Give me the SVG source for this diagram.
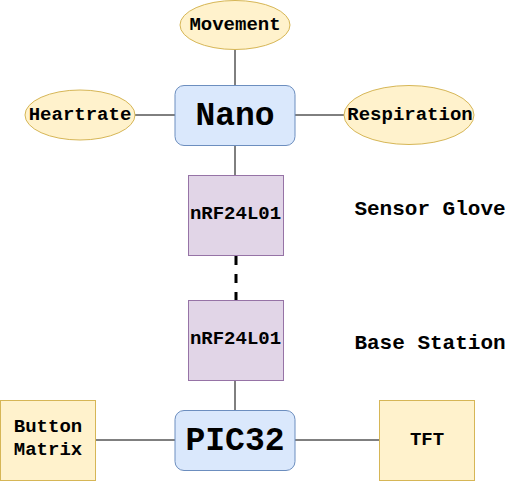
<svg xmlns="http://www.w3.org/2000/svg" width="524" height="481" viewBox="0 0 524 481">
<style>
text{font-family:"Liberation Mono","Courier New",monospace;font-weight:bold;fill:#000;text-anchor:middle}
.s{font-size:19px}
.l{font-size:21px}
.b{font-size:33px}
.y{fill:#fff2cc;stroke:#d6b656;stroke-width:1}
.bl{fill:#dae8fc;stroke:#6c8ebf;stroke-width:1}
.p{fill:#e1d5e7;stroke:#9673a6;stroke-width:1}
.c{stroke:#000;stroke-width:1;fill:none}
</style>
<rect width="524" height="481" fill="#fff"/>
<g id="connectors">
<line class="c" x1="235" y1="50" x2="235" y2="85"/>
<line class="c" x1="135" y1="115" x2="175" y2="115"/>
<line class="c" x1="295" y1="115" x2="344" y2="115"/>
<line class="c" x1="235" y1="145" x2="235" y2="175"/>
<line x1="236" y1="256" x2="236" y2="300" stroke="#000" stroke-width="3" stroke-dasharray="9 9"/>
<line class="c" x1="235" y1="380" x2="235" y2="410"/>
<line class="c" x1="95" y1="440" x2="175" y2="440"/>
<line class="c" x1="295" y1="440" x2="380" y2="440"/>
</g>
<g id="movement"><ellipse class="y" cx="235" cy="25" rx="55" ry="24.5"/><text class="s" x="235" y="30">Movement</text></g>
<g id="heartrate"><ellipse class="y" cx="80" cy="115" rx="55" ry="25"/><text class="s" x="80" y="120">Heartrate</text></g>
<g id="respiration"><ellipse class="y" cx="409" cy="115" rx="65" ry="29.5"/><text class="s" x="410" y="120">Respiration</text></g>
<g id="nano"><rect class="bl" x="175" y="85.5" width="120" height="60" rx="9"/><text class="b" x="235" y="125">Nano</text></g>
<g id="nrf1"><rect class="p" x="188.5" y="175.5" width="95" height="80"/><text class="s" x="235.5" y="219">nRF24L01</text></g>
<g id="sensor-glove"><text class="l" x="430" y="215">Sensor Glove</text></g>
<g id="nrf2"><rect class="p" x="188.5" y="300.5" width="95" height="80"/><text class="s" x="235.5" y="344">nRF24L01</text></g>
<g id="base-station"><text class="l" x="430" y="349">Base Station</text></g>
<g id="pic32"><rect class="bl" x="175" y="410.5" width="120" height="60" rx="9"/><text class="b" x="235" y="450">PIC32</text></g>
<g id="button-matrix"><rect class="y" x="0.5" y="400.5" width="95" height="80"/><text class="s" x="48" y="432">Button</text><text class="s" x="48" y="455">Matrix</text></g>
<g id="tft"><rect class="y" x="379.5" y="400.5" width="95" height="80"/><text class="s" x="427" y="445">TFT</text></g>
</svg>
